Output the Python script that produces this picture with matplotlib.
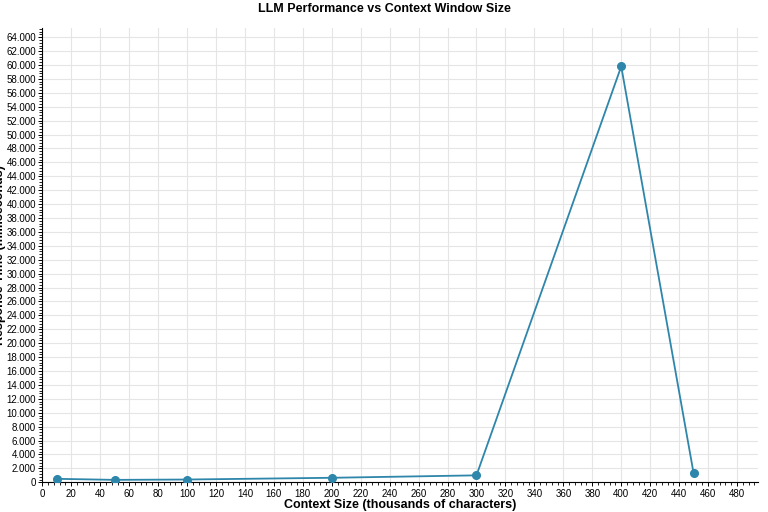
import matplotlib
matplotlib.use("Agg")
import matplotlib.pyplot as plt
from matplotlib.ticker import MultipleLocator, FuncFormatter

plt.rcParams["font.family"] = ["Liberation Sans", "DejaVu Sans"]

context_k = [10, 50, 100, 200, 300, 400, 450]
response_ms = [500, 350, 400, 650, 1000, 59800, 1300]

fig = plt.figure(figsize=(7.68, 5.12), dpi=100)
ax = fig.add_axes([0.055, 0.058, 0.932, 0.887])
ax.plot(context_k, response_ms, color="#2e86ab", lw=1.3, marker="o", ms=5.5, zorder=3)
ax.set_xlim(0, 494.5)
ax.set_ylim(0, 65300)
ax.xaxis.set_major_locator(MultipleLocator(20))
ax.xaxis.set_minor_locator(MultipleLocator(4))
ax.yaxis.set_major_locator(MultipleLocator(2000))
ax.yaxis.set_minor_locator(MultipleLocator(400))
ax.yaxis.set_major_formatter(FuncFormatter(lambda v, p: f"{int(v):,}".replace(",", ".")))
ax.grid(True, which="major", color="#e5e5e5", lw=0.8)
ax.tick_params(labelsize=7, length=3, width=0.7, pad=1.5)
ax.tick_params(which="minor", length=2, width=0.6)
for s in ["top", "right"]:
    ax.spines[s].set_visible(False)
ax.set_xlabel("Context Size (thousands of characters)", fontsize=9, fontweight="bold", labelpad=0)
ax.set_ylabel("Response Time (milliseconds)", fontsize=9, fontweight="bold", labelpad=0)
fig.suptitle("LLM Performance vs Context Window Size", fontsize=9, fontweight="bold", y=0.995)
fig.savefig("out.png", dpi=100)
